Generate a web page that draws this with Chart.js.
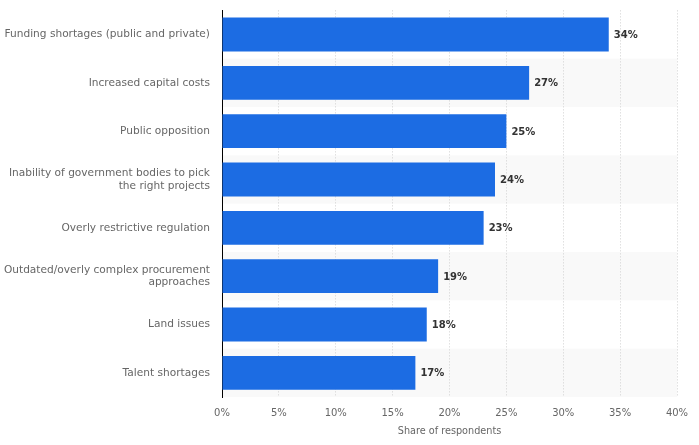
<!DOCTYPE html>
<html>
<head>
<meta charset="utf-8">
<script src="https://cdn.jsdelivr.net/npm/chart.js@4"></script>
<style>
    html, body { margin: 0; padding: 0; background: #fff; }
    #wrap { width: 699px; height: 445px; }
</style>
</head>
<body>
<div id="wrap"><canvas id="barriersChart"></canvas></div>
<script>
const categories = [
    "Funding shortages (public and private)",
    "Increased capital costs",
    "Public opposition",
    ["Inability of government bodies to pick", "the right projects"],
    "Overly restrictive regulation",
    ["Outdated/overly complex procurement", "approaches"],
    "Land issues",
    "Talent shortages"
];
const shares = [34, 27, 25, 24, 23, 19, 18, 17];
const xTicks = [0, 5, 10, 15, 20, 25, 30, 35, 40];

const fontFamily = "'DejaVu Sans', Verdana, sans-serif";

// light stripes behind every second row (drawn before grid and axes)
const rowStripes = {
    id: "rowStripes",
    beforeDraw(chart) {
        const { ctx, chartArea, scales } = chart;
        const y = scales.y;
        const step = y.getPixelForValue(1) - y.getPixelForValue(0);
        ctx.save();
        ctx.fillStyle = "#f9f9f9";
        categories.forEach((c, i) => {
            if (i % 2 === 1) {
                const mid = y.getPixelForValue(i);
                ctx.fillRect(chartArea.left, mid - step / 2, chartArea.right - chartArea.left, step);
            }
        });
        ctx.restore();
    }
};

// value labels at the end of each bar
const valueLabels = {
    id: "valueLabels",
    afterDatasetsDraw(chart) {
        const { ctx } = chart;
        const meta = chart.getDatasetMeta(0);
        ctx.save();
        ctx.font = "bold 10px " + fontFamily;
        ctx.fillStyle = "#333";
        ctx.textBaseline = "middle";
        meta.data.forEach((bar, i) => {
            ctx.fillText(shares[i] + "%", bar.x + 5, bar.y + 1);
        });
        ctx.restore();
    }
};

new Chart(document.getElementById("barriersChart"), {
    type: "bar",
    data: {
        labels: categories,
        datasets: [{
            data: shares,
            backgroundColor: "#1c6ce3",
            barPercentage: 0.7,
            categoryPercentage: 1.0
        }]
    },
    options: {
        indexAxis: "y",
        responsive: true,
        maintainAspectRatio: false,
        animation: false,
        layout: { padding: { top: 2, right: 22, bottom: 0, left: 0 } },
        plugins: {
            legend: { display: false },
            tooltip: { enabled: false }
        },
        scales: {
            x: {
                min: 0,
                max: 40,
                afterBuildTicks(scale) {
                    scale.ticks = xTicks.map(v => ({ value: v }));
                },
                grid: {
                    color: "#d0d0d0",
                    drawTicks: false
                },
                border: { display: false, dash: [1, 2] },
                ticks: {
                    padding: 10,
                    color: "#666",
                    font: { family: fontFamily, size: 10 },
                    callback: v => v + "%"
                },
                title: {
                    display: true,
                    text: "Share of respondents",
                    color: "#666",
                    font: { family: fontFamily, size: 9.7 },
                    padding: { top: 0, bottom: 8 }
                },
                afterFit(scale) { scale.height = 48; }
            },
            y: {
                grid: { display: false },
                border: { display: true, color: "#000", width: 1 },
                ticks: {
                    padding: 4,
                    color: "#666",
                    font: { family: fontFamily, size: 10.6 }
                },
                afterFit(scale) { scale.width = 222; }
            }
        }
    },
    plugins: [rowStripes, valueLabels]
});
</script>
</body>
</html>
